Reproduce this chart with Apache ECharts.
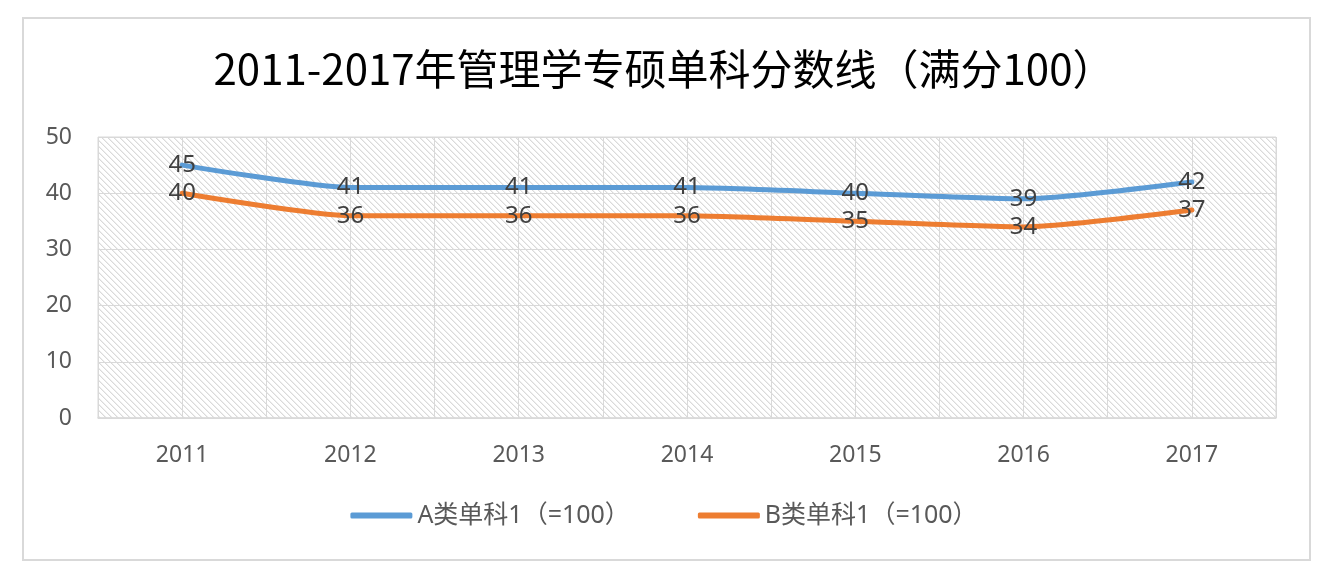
<!DOCTYPE html>
<html>
<head>
<meta charset="utf-8">
<script src="https://cdn.jsdelivr.net/npm/echarts@6/dist/echarts.min.js"></script>
<style>
html,body{margin:0;padding:0;background:#fff;}
#chart{width:1328px;height:577px;}
</style>
</head>
<body>
<div id="chart"></div>
<script>
const titleText = '2011-2017年管理学专硕单科分数线（满分100）';
const categories = ['2011', '2012', '2013', '2014', '2015', '2016', '2017'];
const seriesAName = 'A类单科1（=100）';
const seriesAValues = [45, 41, 41, 41, 40, 39, 42];
const seriesBName = 'B类单科1（=100）';
const seriesBValues = [40, 36, 36, 36, 35, 34, 37];
const yTicks = { min: 0, max: 50, interval: 10 };

// hatch pattern tile (downward diagonal)
function makeHatch() {
  const s = 6;
  const c = document.createElement('canvas');
  c.width = s; c.height = s;
  const ctx = c.getContext('2d');
  const img = ctx.createImageData(s, s);
  for (let y = 0; y < s; y++) {
    for (let x = 0; x < s; x++) {
      const d = ((x - y) % s + s) % s;
      let v = 255;
      if (d === 0) v = 218;
      else if (d === 1) v = 238;
      const i = (y * s + x) * 4;
      img.data[i] = v; img.data[i + 1] = v; img.data[i + 2] = v; img.data[i + 3] = 255;
    }
  }
  ctx.putImageData(img, 0, 0);
  return c;
}

const FONT = '"Noto Sans", "Noto Sans CJK SC", sans-serif';
const chart = echarts.init(document.getElementById('chart'), null, { renderer: 'canvas' });

const labelCfg = {
  show: true,
  position: 'inside',
  color: '#404040',
  fontSize: 24,
  fontFamily: FONT
};

chart.setOption({
  backgroundColor: '#ffffff',
  animation: false,
  title: {
    text: titleText,
    left: 'center',
    top: 43,
    textStyle: { fontSize: 42, fontWeight: 'normal', color: '#000000', fontFamily: '"Noto Sans CJK SC", sans-serif' }
  },
  graphic: [{
    type: 'rect',
    shape: { x: 23, y: 18, width: 1287, height: 542 },
    style: { fill: 'none', stroke: '#d9d9d9', lineWidth: 2 },
    silent: true,
    z: -10
  }],
  legend: {
    bottom: 44,
    left: 'center',
    itemWidth: 62,
    itemHeight: 6,
    itemGap: 68,
    icon: 'roundRect',
    textStyle: { fontSize: 25, color: '#595959', fontFamily: FONT },
    data: [seriesAName, seriesBName]
  },
  grid: {
    left: 98,
    right: 52,
    top: 137,
    bottom: 159,
    show: true,
    borderColor: '#d9d9d9',
    borderWidth: 1,
    backgroundColor: { image: makeHatch(), repeat: 'repeat' }
  },
  xAxis: [{
    type: 'category',
    data: categories,
    boundaryGap: true,
    axisLine: { show: true, lineStyle: { color: '#d9d9d9', width: 1.5 } },
    axisTick: { show: false },
    axisLabel: { color: '#595959', fontSize: 23, fontFamily: FONT, margin: 26 },
    splitLine: { show: false }
  }, {
    type: 'value',
    min: 0,
    max: categories.length * 2,
    interval: 1,
    position: 'bottom',
    axisLine: { show: false },
    axisTick: { show: false },
    axisLabel: { show: false },
    splitLine: { show: true, lineStyle: { color: '#d9d9d9', width: 1 } }
  }],
  yAxis: {
    type: 'value',
    min: yTicks.min,
    max: yTicks.max,
    interval: yTicks.interval,
    axisLine: { show: false },
    axisTick: { show: false },
    axisLabel: { color: '#595959', fontSize: 23, fontFamily: FONT, margin: 26 },
    splitLine: { show: true, lineStyle: { color: '#d9d9d9', width: 1 } }
  },
  series: [{
    name: seriesAName,
    type: 'line',
    data: seriesAValues,
    smooth: 0.2,
    symbol: 'circle',
    symbolSize: 1,
    showSymbol: true,
    lineStyle: { color: '#5b9bd5', width: 5, cap: 'round' },
    itemStyle: { color: '#5b9bd5' },
    label: labelCfg,
    z: 3
  }, {
    name: seriesBName,
    type: 'line',
    data: seriesBValues,
    smooth: 0.2,
    symbol: 'circle',
    symbolSize: 1,
    showSymbol: true,
    lineStyle: { color: '#ed7d31', width: 5, cap: 'round' },
    itemStyle: { color: '#ed7d31' },
    label: labelCfg,
    z: 3
  }]
});
</script>
</body>
</html>
